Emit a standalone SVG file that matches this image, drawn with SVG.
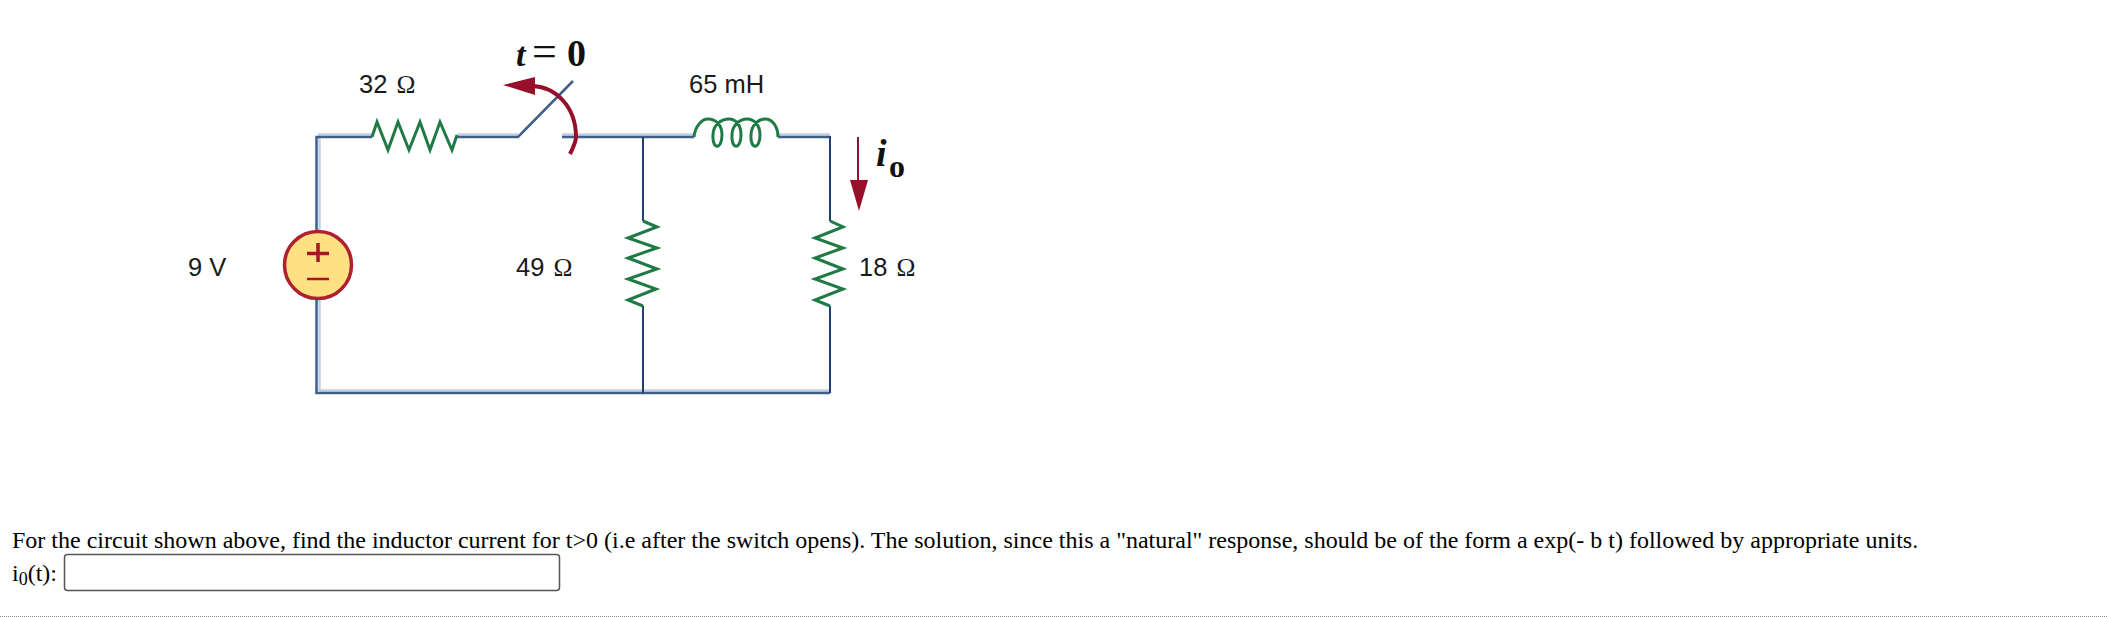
<svg xmlns="http://www.w3.org/2000/svg" width="2108" height="617" viewBox="0 0 2108 617">
<style>
.lbl{font-family:"Liberation Sans",Arial,sans-serif;font-size:25.500px;fill:#1a1a1a}
.om{font-family:"Liberation Serif","Times New Roman",serif}
.q{font-family:"Liberation Serif","Times New Roman",serif;font-size:24px;fill:#000}
.m{font-family:"Liberation Serif","Times New Roman",serif;fill:#111}
.wire{fill:none;stroke:#3d5f8a;stroke-width:2.500}
.wireh{fill:none;stroke:#c3cfde;stroke-width:2.500}
.thin{fill:none;stroke:#1f3f72;stroke-width:2}
.res{fill:none;stroke:#1f7a45;stroke-width:3;stroke-linejoin:miter}
</style>
<g id="connectors">
<path class="wireh" d="M318 134.500H372M457 134.500H518M562 134.500H694M778 134.500H830M319.500 136V231M319.500 299V391M319 390.500H830"/>
<path class="wire" d="M372 137H316.500V231M457 137H518L573 81M562 137H694M778 137H830M316.500 299V393H830"/>
<path class="thin" d="M643 137V221M643 306V393M830 136V221M830 306V393"/>
</g>
<g id="r32"><path class="res" d="M372 137L377 122L388 150L398 122L409 150L420 122L430 150L440 122L452 150L457 135"/><text class="lbl" x="359" y="93">32 <tspan class="om" dx="2">Ω</tspan></text></g>
<g id="switch"><path d="M533 86C555 87 576 106 576 137C576 141 573 148 570 154" fill="none" stroke="#97102a" stroke-width="4"/><path d="M503 85L535 77V95Z" fill="#97102a"/><text class="m" x="516" y="66" font-size="34" font-style="italic" font-weight="bold" fill="#15203a">t</text><text class="m" x="532" y="66" font-size="44">=</text><text class="m" x="567" y="66" font-size="38" font-weight="bold" fill="#22304a">0</text></g>
<g id="l65"><path class="res" d="M694 137C695 126 702 119 708 119C716 119 722 125 722 135C722 150 712 150 713 135C713 125 721 119 729 119C736 119 741 125 741 135C741 150 731 150 732 135C732 125 740 119 747 119C754 119 760 125 760 135C760 150 750 150 751 135C751 125 759 119 765 119C772 119 778 126 778 137" stroke-width="2.300"/><text class="lbl" x="689" y="93">65 mH</text></g>
<g id="io"><path d="M858 137V181" stroke="#97102a" stroke-width="2" fill="none"/><path d="M850 180H868L859 211Z" fill="#97102a"/><text class="m" x="876" y="166" font-size="38" font-style="italic" font-weight="bold" fill="#15203a">i</text><text class="m" x="889" y="177" font-size="32" font-weight="bold" fill="#1d3f7a">o</text></g>
<g id="r49"><path class="res" d="M643 221L657 227L628 238L657 248L628 258L657 269L628 279L656 289L628 300L643 306"/><text class="lbl" x="516" y="276">49 <tspan class="om" dx="2">Ω</tspan></text></g>
<g id="r18"><path class="res" d="M830 221L843 227L815 238L843 248L815 258L843 269L815 279L843 289L815 300L830 306"/><text class="lbl" x="859" y="276">18 <tspan class="om" dx="2">Ω</tspan></text></g>
<g id="vs"><circle cx="318" cy="265" r="33.500" fill="#fde183" stroke="#b0212f" stroke-width="3.500"/><path d="M307 253.500H329M318 243V262" stroke="#a8142b" stroke-width="3.500" fill="none"/><path d="M307 279H329" stroke="#a8142b" stroke-width="2.500" fill="none"/><text class="lbl" x="188" y="276">9 V</text></g>
<g id="question">
<text class="q" x="12" y="548">For the circuit shown above, find the inductor current for t&gt;0 (i.e after the switch opens). The solution, since this a "natural" response, should be of the form a exp(- b t) followed by appropriate units.</text>
<text class="q" x="12" y="581">i<tspan font-size="18" dy="4">0</tspan><tspan dy="-4">(t):</tspan></text>
<rect x="64.500" y="554.500" width="495" height="36" rx="3" fill="#fff" stroke="#555" stroke-width="1.500"/>
<path d="M0 616.500H2108" stroke="#888" stroke-width="1" stroke-dasharray="1 1"/>
</g>
</svg>
